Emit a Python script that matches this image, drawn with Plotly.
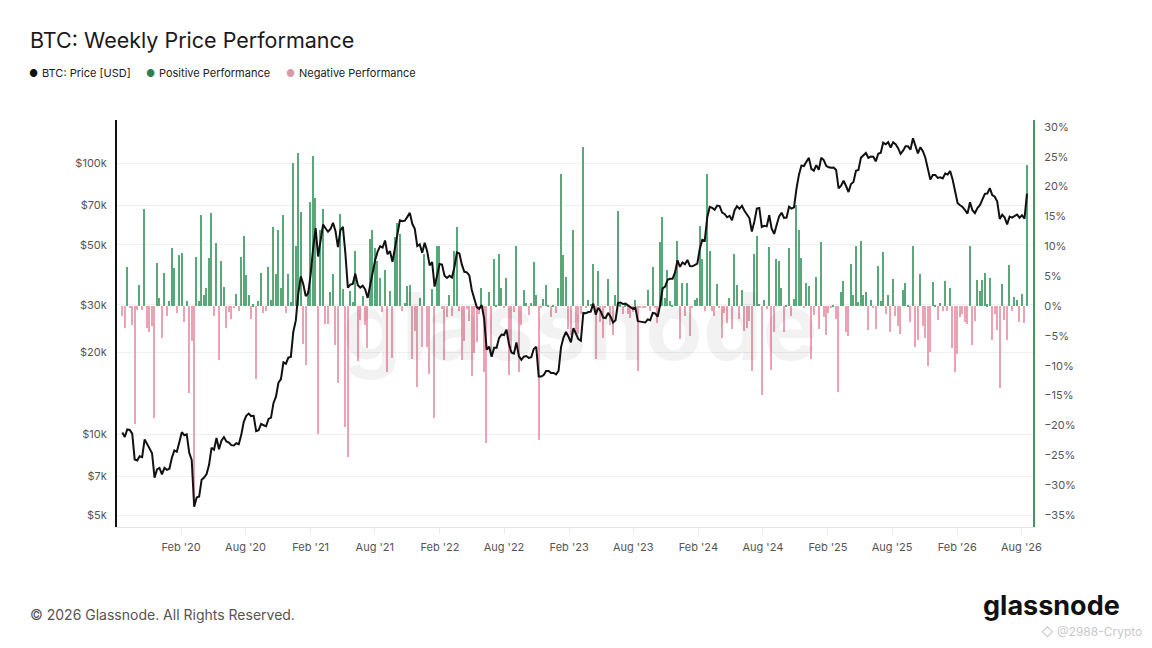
import pandas as pd
import plotly.graph_objects as go

# weekly closes in USD, one value per week (weeks start Monday 2019-08-19)
price_2019 = [10140, 9760, 10400, 10360, 10030, 8050, 7990, 8280, 8220, 9550,
              9200, 8800, 8500, 6900, 7400, 7500, 7100, 7500, 7380, 7450]
price_2020 = [8180, 8700, 8600, 9330, 10160, 9900, 9980, 8530, 8030, 5390,
              5830, 5880, 6780, 6910, 7120, 7700, 8900, 8750, 9670, 8790,
              9450, 9750, 9390, 9300, 9100, 9070, 9250, 9170, 9930, 11100,
              11680, 11900, 11650, 11680, 10250, 10330, 10900, 10780, 10690, 11380,
              11500, 13030, 13740, 15480, 15960, 18400, 18180, 19150, 19270, 23870,
              26270, 33000]
price_2021 = [38200, 35800, 32300, 33100, 38900, 48700, 57500, 45200, 51000, 59300,
              57500, 55800, 57100, 60200, 56200, 49000, 56600, 58200, 46400, 34700,
              35600, 35800, 39100, 35500, 34700, 35300, 34200, 31800, 35400, 39900,
              43800, 47100, 49300, 48800, 51800, 46100, 47300, 43200, 48200, 54900,
              61500, 61000, 61300, 63300, 65500, 59700, 57200, 49400, 50100, 46700,
              50800, 47300]
price_2022 = [41900, 43100, 35000, 38500, 42400, 42200, 38400, 37700, 38400, 37800,
              41300, 46800, 46400, 42200, 39700, 39500, 38500, 34000, 31300, 29400,
              29000, 29900, 26600, 20500, 21000, 19300, 20800, 20800, 22600, 23300,
              23200, 24300, 21500, 20000, 19800, 21800, 19400, 18800, 19300, 19400,
              19100, 19200, 20600, 21000, 16300, 16300, 16500, 17100, 17100, 16800,
              16800, 16600]
price_2023 = [17100, 20900, 22700, 23800, 22900, 21800, 24600, 23500, 22400, 22100,
              28000, 27900, 28200, 28300, 30300, 27600, 29200, 28400, 26900, 26800,
              28000, 27100, 25800, 26300, 30500, 30600, 30200, 30300, 29900, 29300,
              29000, 29300, 26100, 26000, 25900, 25800, 26500, 26300, 28000, 27900,
              27100, 30000, 34500, 35000, 37100, 37400, 37400, 39500, 43800, 41400,
              43000, 42300]
price_2024 = [43900, 41700, 41600, 42000, 42600, 48300, 52100, 51700, 63100, 68900,
              68300, 67200, 69700, 69400, 65700, 64900, 63100, 63900, 61500, 66900,
              69300, 67800, 69600, 66700, 64300, 62700, 55900, 60800, 68000, 68300,
              58100, 58700, 58400, 64200, 57300, 54800, 59100, 63600, 65600, 62800,
              62900, 69000, 67900, 68700, 80400, 90600, 97900, 97500, 101200, 104500,
              95200, 93800, 98300]
price_2025 = [94500, 104600, 102600, 97700, 96500, 96100, 96300, 94300, 80700, 82600,
              86100, 82300, 78200, 83700, 85200, 93700, 94300, 104600, 106500, 109000,
              104600, 105700, 105500, 101500, 108300, 109200, 119000, 117300, 119400, 114200,
              119300, 117400, 113500, 108200, 111100, 115300, 115300, 112200, 123500, 115100,
              108600, 114500, 110600, 104700, 94200, 86900, 90400, 90400, 88200, 88600,
              87800, 91500]
price_2026 = [90800, 93500, 87000, 77400, 71200, 69900, 68900, 67100, 65100, 71700,
              67000, 65300, 68200, 69900, 73000, 77000, 77200, 80800, 76200, 75100,
              72100, 62200, 64500, 63000, 59400, 63500, 62900, 63900, 64600, 62900,
              64200, 62400, 77100]

# weekly price performance in %, same weeks
perf_2019 = [-1.6, -3.7, 6.6, -0.4, -3.2, -19.7, -0.7, 3.6, -0.7, 16.2,
             -3.7, -4.3, -3.4, -18.8, 7.2, 1.4, -5.3, 5.6, -1.6, 0.9]
perf_2020 = [9.8, 6.4, -1.1, 8.5, 8.9, -2.6, 0.8, -14.5, -5.9, -32.9,
             8.2, 0.9, 15.3, 1.9, 3.0, 8.1, 15.6, -1.7, 10.5, -9.1,
             7.5, 3.2, -3.7, -1.0, -2.2, -0.3, 2.0, -0.9, 8.3, 11.8,
             5.2, 1.9, -2.1, 0.3, -12.2, 0.8, 5.5, -1.1, -0.8, 6.5,
             1.1, 13.3, 5.4, 12.7, 3.1, 15.3, -1.2, 5.3, 0.6, 23.9,
             10.1, 25.6]
perf_2021 = [15.8, -6.3, -9.8, 2.5, 17.5, 25.2, 18.1, -21.4, 12.8, 16.3,
             -3.0, -3.0, 2.3, 5.4, -6.6, -12.8, 15.5, 2.8, -20.3, -25.2,
             2.6, 0.6, 9.2, -9.2, -2.3, 1.7, -3.1, -7.0, 11.3, 12.7,
             9.8, 7.5, 4.7, -1.0, 6.1, -11.0, 2.6, -8.7, 11.6, 13.9,
             12.0, -0.8, 0.5, 3.3, 3.5, -8.9, -4.2, -13.6, 1.4, -6.8,
             8.8, -6.9]
perf_2022 = [-11.4, 2.9, -18.8, 10.0, 10.1, -0.5, -9.0, -1.8, 1.9, -1.6,
             9.3, 13.3, -0.9, -9.1, -5.9, -0.5, -2.5, -11.7, -7.9, -6.1,
             -1.4, 3.1, -11.0, -22.9, 2.4, -8.1, 7.8, 0.2, 8.7, 3.1,
             -0.4, 4.7, -11.5, -7.0, -1.0, 10.1, -11.0, -3.1, 2.7, 0.5,
             -1.5, 0.5, 7.3, 1.9, -22.4, -0.3, 1.2, 3.6, 0.2, -1.8,
             0.1, -1.2]
perf_2023 = [3.0, 22.2, 8.6, 4.8, -3.8, -4.8, 12.8, -4.5, -4.7, -1.3,
             26.7, -0.4, 1.1, 0.4, 7.1, -8.9, 5.8, -2.7, -5.3, -0.4,
             4.5, -3.2, -4.8, 1.9, 16.0, 0.3, -1.3, 0.3, -1.3, -2.0,
             -1.0, 1.0, -10.9, -0.4, -0.4, -0.4, 2.7, -0.8, 6.5, -0.4,
             -2.9, 10.7, 15.0, 1.4, 6.0, 0.8, 0.1, 5.6, 10.9, -5.5,
             3.9, -1.6]
perf_2024 = [3.8, -5.0, -0.2, 1.0, 1.4, 13.4, 7.9, -0.8, 22.1, 9.2,
             -0.9, -1.6, 3.7, -0.4, -5.3, -1.2, -2.8, 1.3, -3.8, 8.8,
             3.6, -2.2, 2.7, -4.2, -3.6, -2.5, -10.8, 8.8, 11.8, 0.4,
             -14.9, 1.0, -0.5, 9.9, -10.7, -4.4, 7.8, 7.6, 3.1, -4.3,
             0.2, 9.7, -1.6, 1.2, 17.0, 12.7, 8.1, -0.4, 3.8, 3.3,
             -8.9, -1.5, 4.8]
perf_2025 = [-3.9, 10.7, -1.9, -4.8, -1.2, -0.4, 0.2, -2.1, -14.4, 2.4,
             4.2, -4.4, -5.0, 7.0, 1.8, 10.0, 0.6, 10.9, 1.8, 2.3,
             -4.0, 1.1, -0.2, -3.8, 6.7, 0.8, 9.0, -1.4, 1.8, -4.4,
             4.5, -1.6, -3.3, -4.7, 2.7, 3.8, 0.1, -2.7, 10.1, -6.8,
             -5.6, 5.4, -3.4, -5.3, -10.0, -7.7, 4.0, 0.1, -2.4, 0.5,
             -0.9, 4.2]
perf_2026 = [-0.8, 3.0, -7.0, -11.0, -8.0, -1.8, -1.4, -2.6, -3.0, 10.1,
             -6.6, -2.5, 4.4, 2.5, 4.4, 5.5, 0.3, 4.7, -5.7, -1.4,
             -4.0, -13.7, 3.7, -2.3, -5.7, 6.9, -0.9, 1.6, 1.1, -2.6,
             2.1, -2.8, 23.6]

x_tick_dates = ["2020-02-01", "2020-08-01", "2021-02-01", "2021-08-01", "2022-02-01",
                "2022-08-01", "2023-02-01", "2023-08-01", "2024-02-01", "2024-08-01",
                "2025-02-01", "2025-08-01", "2026-02-01", "2026-08-01"]
x_tick_labels = ["Feb '20", "Aug '20", "Feb '21", "Aug '21", "Feb '22", "Aug '22", "Feb '23",
                 "Aug '23", "Feb '24", "Aug '24", "Feb '25", "Aug '25", "Feb '26", "Aug '26"]
price_ticks = [5000, 7000, 10000, 20000, 30000, 50000, 70000, 100000]
price_tick_labels = ["$5k", "$7k", "$10k", "$20k", "$30k", "$50k", "$70k", "$100k"]

price = (price_2019 + price_2020 + price_2021 + price_2022 + price_2023
         + price_2024 + price_2025 + price_2026)
perf = (perf_2019 + perf_2020 + perf_2021 + perf_2022 + perf_2023
        + perf_2024 + perf_2025 + perf_2026)
assert len(price) == len(perf)
weeks = pd.date_range("2019-08-19", periods=len(price), freq="7D")

pos = [v if v > 0 else None for v in perf]
neg = [v if v < 0 else None for v in perf]

GREEN = "#58a87a"
PINK = "#eba3b3"
FONT = "Inter, Roboto, sans-serif"
BAR_W = 4 * 86400000

# page body has an 8px margin, so the figure is drawn 8px smaller and shifted
OFF = 8
W, H = 1152 - 2 * OFF, 648 - 2 * OFF
# plot area in page pixels: x 117..1033, y 120..527
L, R, T, B = 117, 1033, 120, 527


def px(x):
    return (x - L) / (R - L)


def py(y):
    return (B - y) / (B - T)


fig = go.Figure()
fig.add_trace(go.Bar(x=weeks, y=pos, width=BAR_W, marker=dict(color=GREEN, line_width=0),
                     name="Positive Performance", showlegend=False, yaxis="y"))
fig.add_trace(go.Bar(x=weeks, y=neg, width=BAR_W, marker=dict(color=PINK, line_width=0),
                     name="Negative Performance", showlegend=False, yaxis="y"))
fig.add_trace(go.Scatter(x=weeks, y=price, mode="lines", line=dict(color="#111111", width=2),
                         name="BTC: Price [USD]", showlegend=False, yaxis="y2"))

annotations = [
    # faint watermark
    dict(text="<b>glassnode</b>", x=px(580), y=py(326), font=dict(size=94, color="rgba(0,0,0,0.05)")),
    # legend
    dict(text="●", x=px(33), y=py(73), font=dict(size=10, color="#111111")),
    dict(text="BTC: Price [USD]", x=px(41), y=py(73), xanchor="left", font=dict(size=11, color="#222")),
    dict(text="●", x=px(150), y=py(73), font=dict(size=10, color="#2f7d52")),
    dict(text="Positive Performance", x=px(158), y=py(73), xanchor="left", font=dict(size=11, color="#222")),
    dict(text="●", x=px(290), y=py(73), font=dict(size=10, color="#d99aa7")),
    dict(text="Negative Performance", x=px(298), y=py(73), xanchor="left", font=dict(size=11, color="#222")),
    # footer
    dict(text="© 2026 Glassnode. All Rights Reserved.", x=px(29), y=py(614), xanchor="left",
         font=dict(size=14, color="#555555")),
    dict(text="<b>glassnode</b>", x=px(1121), y=py(605), xanchor="right",
         font=dict(size=27, color="#111111")),
    dict(text="◇ @2988-Crypto", x=px(1143), y=py(631), xanchor="right",
         font=dict(size=12, color="rgba(150,150,150,0.55)")),
]
for a in annotations:
    a.update(xref="paper", yref="paper", showarrow=False, borderpad=0)
    a.setdefault("xanchor", "center")
    a.setdefault("yanchor", "middle")

fig.update_layout(
    width=W, height=H,
    margin=dict(l=L - OFF, r=1152 - R - OFF, t=T - OFF, b=648 - B - OFF),
    paper_bgcolor="white", plot_bgcolor="white",
    font=dict(family=FONT, color="#555555", size=11),
    title=dict(text="BTC: Weekly Price Performance", x=(30 - OFF) / W, xref="container",
               xanchor="left", y=1 - (40 - OFF) / H, yanchor="middle",
               font=dict(size=21.5, color="#1a1a1a")),
    barmode="overlay",
    bargap=0,
    showlegend=False,
    annotations=annotations,
    xaxis=dict(type="date", range=["2019-08-04", "2026-09-03"],
               tickvals=x_tick_dates, ticktext=x_tick_labels,
               showgrid=False, zeroline=False,
               showline=True, linecolor="#e4e4e4", linewidth=1,
               ticks="outside", ticklen=6, tickcolor="#ececec",
               ticklabelstandoff=4, tickfont=dict(size=11, color="#555555")),
    yaxis=dict(side="right", range=[-37.0, 31.16], tick0=0, dtick=5, ticksuffix="%",
               showgrid=False, zeroline=False,
               showline=True, linecolor="#3c9a5d", linewidth=2,
               ticklabelstandoff=7, tickfont=dict(size=11, color="#555555")),
    yaxis2=dict(side="left", overlaying="y", type="log", range=[3.657, 5.159],
                tickvals=price_ticks, ticktext=price_tick_labels,
                showgrid=True, gridcolor="#f0f0f0", gridwidth=1, zeroline=False,
                showline=True, linecolor="#111111", linewidth=2,
                ticklabelstandoff=6, tickfont=dict(size=11, color="#555555")),
)

fig.write_html("out.html")
